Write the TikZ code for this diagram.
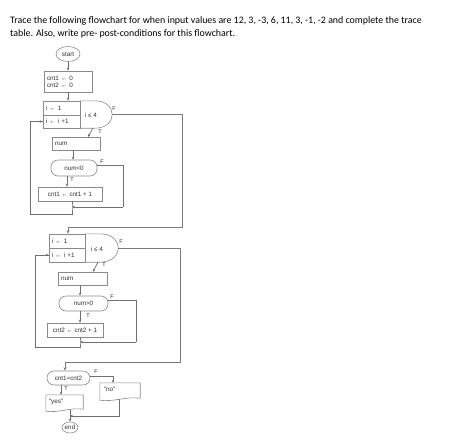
\documentclass[tikz,border=0pt]{standalone}
\usepackage{fontspec}
\setmainfont{Carlito}
\newfontfamily\dfont{Liberation Sans}
\usetikzlibrary{shapes.geometric,arrows.meta,calc}
\definecolor{ln}{HTML}{707070}
\definecolor{lb}{HTML}{7A7A7A}
\definecolor{bx}{HTML}{8A8A8A}
\definecolor{tx}{HTML}{303030}
\begin{document}
\begin{tikzpicture}[x=1pt,y=-1pt,
  df/.style={font=\dfont\fontsize{6.3}{7.3}\selectfont, text=tx},
  term/.style={ellipse, draw=bx, line width=0.6pt, inner sep=0pt, df},
  lbox/.style={rectangle, draw=bx, line width=0.6pt, align=left, inner xsep=3pt, inner ysep=0pt, df},
  cbox/.style={rectangle, draw=bx, line width=0.6pt, inner sep=0pt, df},
  stad/.style={rectangle, rounded corners=7pt, draw=bx, line width=0.6pt, inner sep=0pt, df},
  plain/.style={inner sep=0pt, df},
  lbl/.style={inner sep=0pt, df, font=\dfont\fontsize{5.5}{6}\selectfont},
  conn/.style={draw=ln, line width=0.7pt},
  arr/.style={conn, -{Stealth[length=3pt,width=2.6pt]}},
  big/.style={draw=lb, line width=1pt},
  bigarr/.style={big, -{Stealth[length=3.5pt,width=3pt]}},
  outl/.style={draw=bx, line width=0.6pt}
]
\useasboundingbox (0,0) rectangle (474,440);

% title
\node[anchor=base west, inner sep=0pt, font=\fontsize{9.9}{11}\selectfont] (t1) at (10,23) {Trace the following flowchart for when input values are 12, 3, -3, 6, 11, 3, -1, -2 and complete the trace};
\node[anchor=base west, inner sep=0pt, font=\fontsize{9.9}{11}\selectfont] (t2) at (10,36) {table. Also, write pre- post-conditions for this flowchart.};

% start and init
\node[term, minimum width=24pt, minimum height=15pt] (start) at (68,54) {start};
\node[lbox, text width=42pt, minimum height=21pt] (init) at (68,81.5) {cnt1 ← 0\\cnt2 ← 0};

% loop 1
\node[lbox, text width=31pt, minimum height=14pt] (lp1a) at (61.5,108) {i ← 1};
\node[lbox, text width=31pt, minimum height=13pt] (lp1b) at (61.5,121.5) {i ← i +1};
\node[plain, minimum width=32pt, minimum height=27pt, text depth=0pt] (d1) at (96,114.5) {};
\node[plain] (d1t) at (91,115.5) {i ≤ 4};
\draw[outl] (d1.north west) -- ($(d1.north west)+(15,0)$)
  .. controls ($(d1.north east)+(-6,0)$) and ($(d1.east)+(0,-7)$) .. (d1.east)
  .. controls ($(d1.east)+(0,7)$) and ($(d1.south east)+(-6,0)$) .. ($(d1.south west)+(15,0)$)
  -- (d1.south west);

\node[lbox, text width=42pt, minimum height=13pt] (num1) at (76,143.5) {num};
\node[stad, minimum width=46pt, minimum height=16pt] (c1) at (74,168) {num<0};
\node[cbox, minimum width=64pt, minimum height=14pt] (inc1) at (70,194) {cnt1 ← cnt1 + 1};

% loop 2
\node[lbox, text width=30pt, minimum height=14pt] (lp2a) at (67,241) {i ← 1};
\node[lbox, text width=30pt, minimum height=14pt] (lp2b) at (67,255) {i ← i +1};
\node[plain, minimum width=33pt, minimum height=28pt] (d2) at (101.5,248) {};
\node[plain] (d2t) at (97,249) {i ≤ 4};
\draw[outl] (d2.north west) -- ($(d2.north west)+(15,0)$)
  .. controls ($(d2.north east)+(-6,0)$) and ($(d2.east)+(0,-7)$) .. (d2.east)
  .. controls ($(d2.east)+(0,7)$) and ($(d2.south east)+(-6,0)$) .. ($(d2.south west)+(15,0)$)
  -- (d2.south west);

\node[lbox, text width=43pt, minimum height=13pt] (num2) at (82.5,278.5) {num};
\node[stad, minimum width=49pt, minimum height=15pt] (c2) at (83.5,303.5) {num>0};
\node[cbox, minimum width=56pt, minimum height=14pt] (inc2) at (75,330) {cnt2 ← cnt2 + 1};

% final decision
\node[stad, minimum width=43pt, minimum height=14pt] (c3) at (68.5,378) {cnt1=cnt2};
\node[plain, minimum width=37pt, minimum height=16pt] (yes) at (64.5,403) {};
\node[plain, anchor=west] (yest) at ($(yes.west)+(3,-1.5)$) {"yes"};
\draw[outl] (yes.north west) -- (yes.north east) -- ($(yes.south east)+(0,-2)$)
  .. controls ($(yes.south)+(6,-4)$) and ($(yes.south)+(-6,2)$) .. (yes.south west) -- cycle;
\node[plain, minimum width=40pt, minimum height=17pt] (no) at (120,391.5) {};
\node[plain, anchor=west] (not) at ($(no.west)+(4,-2)$) {"no"};
\draw[outl] (no.north west) -- (no.north east) -- ($(no.south east)+(0,-2)$)
  .. controls ($(no.south)+(6,-4)$) and ($(no.south)+(-6,2)$) .. (no.south west) -- cycle;
\node[term, minimum width=16pt, minimum height=11pt] (end) at (70,427.5) {end};

% coordinates for routing
\coordinate (r1) at (182,227);
\coordinate (e2) at (68,227);
\coordinate (f1) at (123,207);
\coordinate (j1) at (72,207);
\coordinate (b1) at (30,214);
\coordinate (r2) at (180,362);
\coordinate (e3) at (65,362);
\coordinate (f2) at (136,342);
\coordinate (j2) at (80,342);
\coordinate (b2) at (35,347);
\coordinate (f3) at (113,376);
\coordinate (j3) at (70,416);
\coordinate (t1s) at (93,128);
\coordinate (t2s) at (98,262);

% connectors
\draw[arr] (start) -- (init);
\draw[arr] (init.south) -- (init.south |- lp1a.north);
\draw[bigarr] (d1.east) -| (r1) -- (e2) -- (e2 |- lp2a.north);
\draw[arr] (t1s) -- (88,136.9);
\draw[arr] (num1.south -| 73,0) -- (73,0 |- c1.north);
\draw[conn] (c1.east |- 0,165) -| (f1);
\draw[arr] (f1) -- (j1);
\draw[arr] (c1.south -| 67,0) -- (67,0 |- inc1.north);
\draw[conn] (inc1.south -| j1) -- (j1) |- (b1) |- (lp1b.west);
\draw[arr] (b1 |- lp1b.west) -- (lp1b.west);

\draw[bigarr] (d2.east) -| (r2) -- (e3) -- (e3 |- c3.north);
\draw[arr] (t2s) -- (93,271.9);
\draw[arr] (num2.south -| 80,0) -- (80,0 |- c2.north);
\draw[conn] (c2.east |- 0,300) -| (f2);
\draw[arr] (f2) -- (j2);
\draw[arr] (c2.south -| 80,0) -- (80,0 |- inc2.north);
\draw[conn] (inc2.south -| j2) -- (j2) |- (b2) |- (lp2b.west);
\draw[arr] (b2 |- lp2b.west) -- (lp2b.west);

\draw[conn] (c3.east |- 0,376) -- (f3);
\draw[arr] (f3) -- (f3 |- no.north);
\draw[arr] (c3.south -| 61,0) -- (61,0 |- yes.north);
\draw[conn] ($(no.south)+(-1,-1)$) |- (j3);
\draw[arr] (119,416) -- (j3);
\draw[conn] (70,409.5) -- (j3);
\draw[arr] (j3) -- (end);

% labels
\node[lbl] (lf1) at (114,109) {F};
\node[lbl] (lt1) at (100,132) {T};
\node[lbl] (lf2) at (102,162) {F};
\node[lbl] (lt2) at (72,180) {T};
\node[lbl] (lf3) at (121,242) {F};
\node[lbl] (lt3) at (104,265) {T};
\node[lbl] (lf4) at (112,297) {F};
\node[lbl] (lt4) at (88,316) {T};
\node[lbl] (lf5) at (96,372) {F};
\node[lbl] (lt5) at (66,389) {T};
\end{tikzpicture}
\end{document}
